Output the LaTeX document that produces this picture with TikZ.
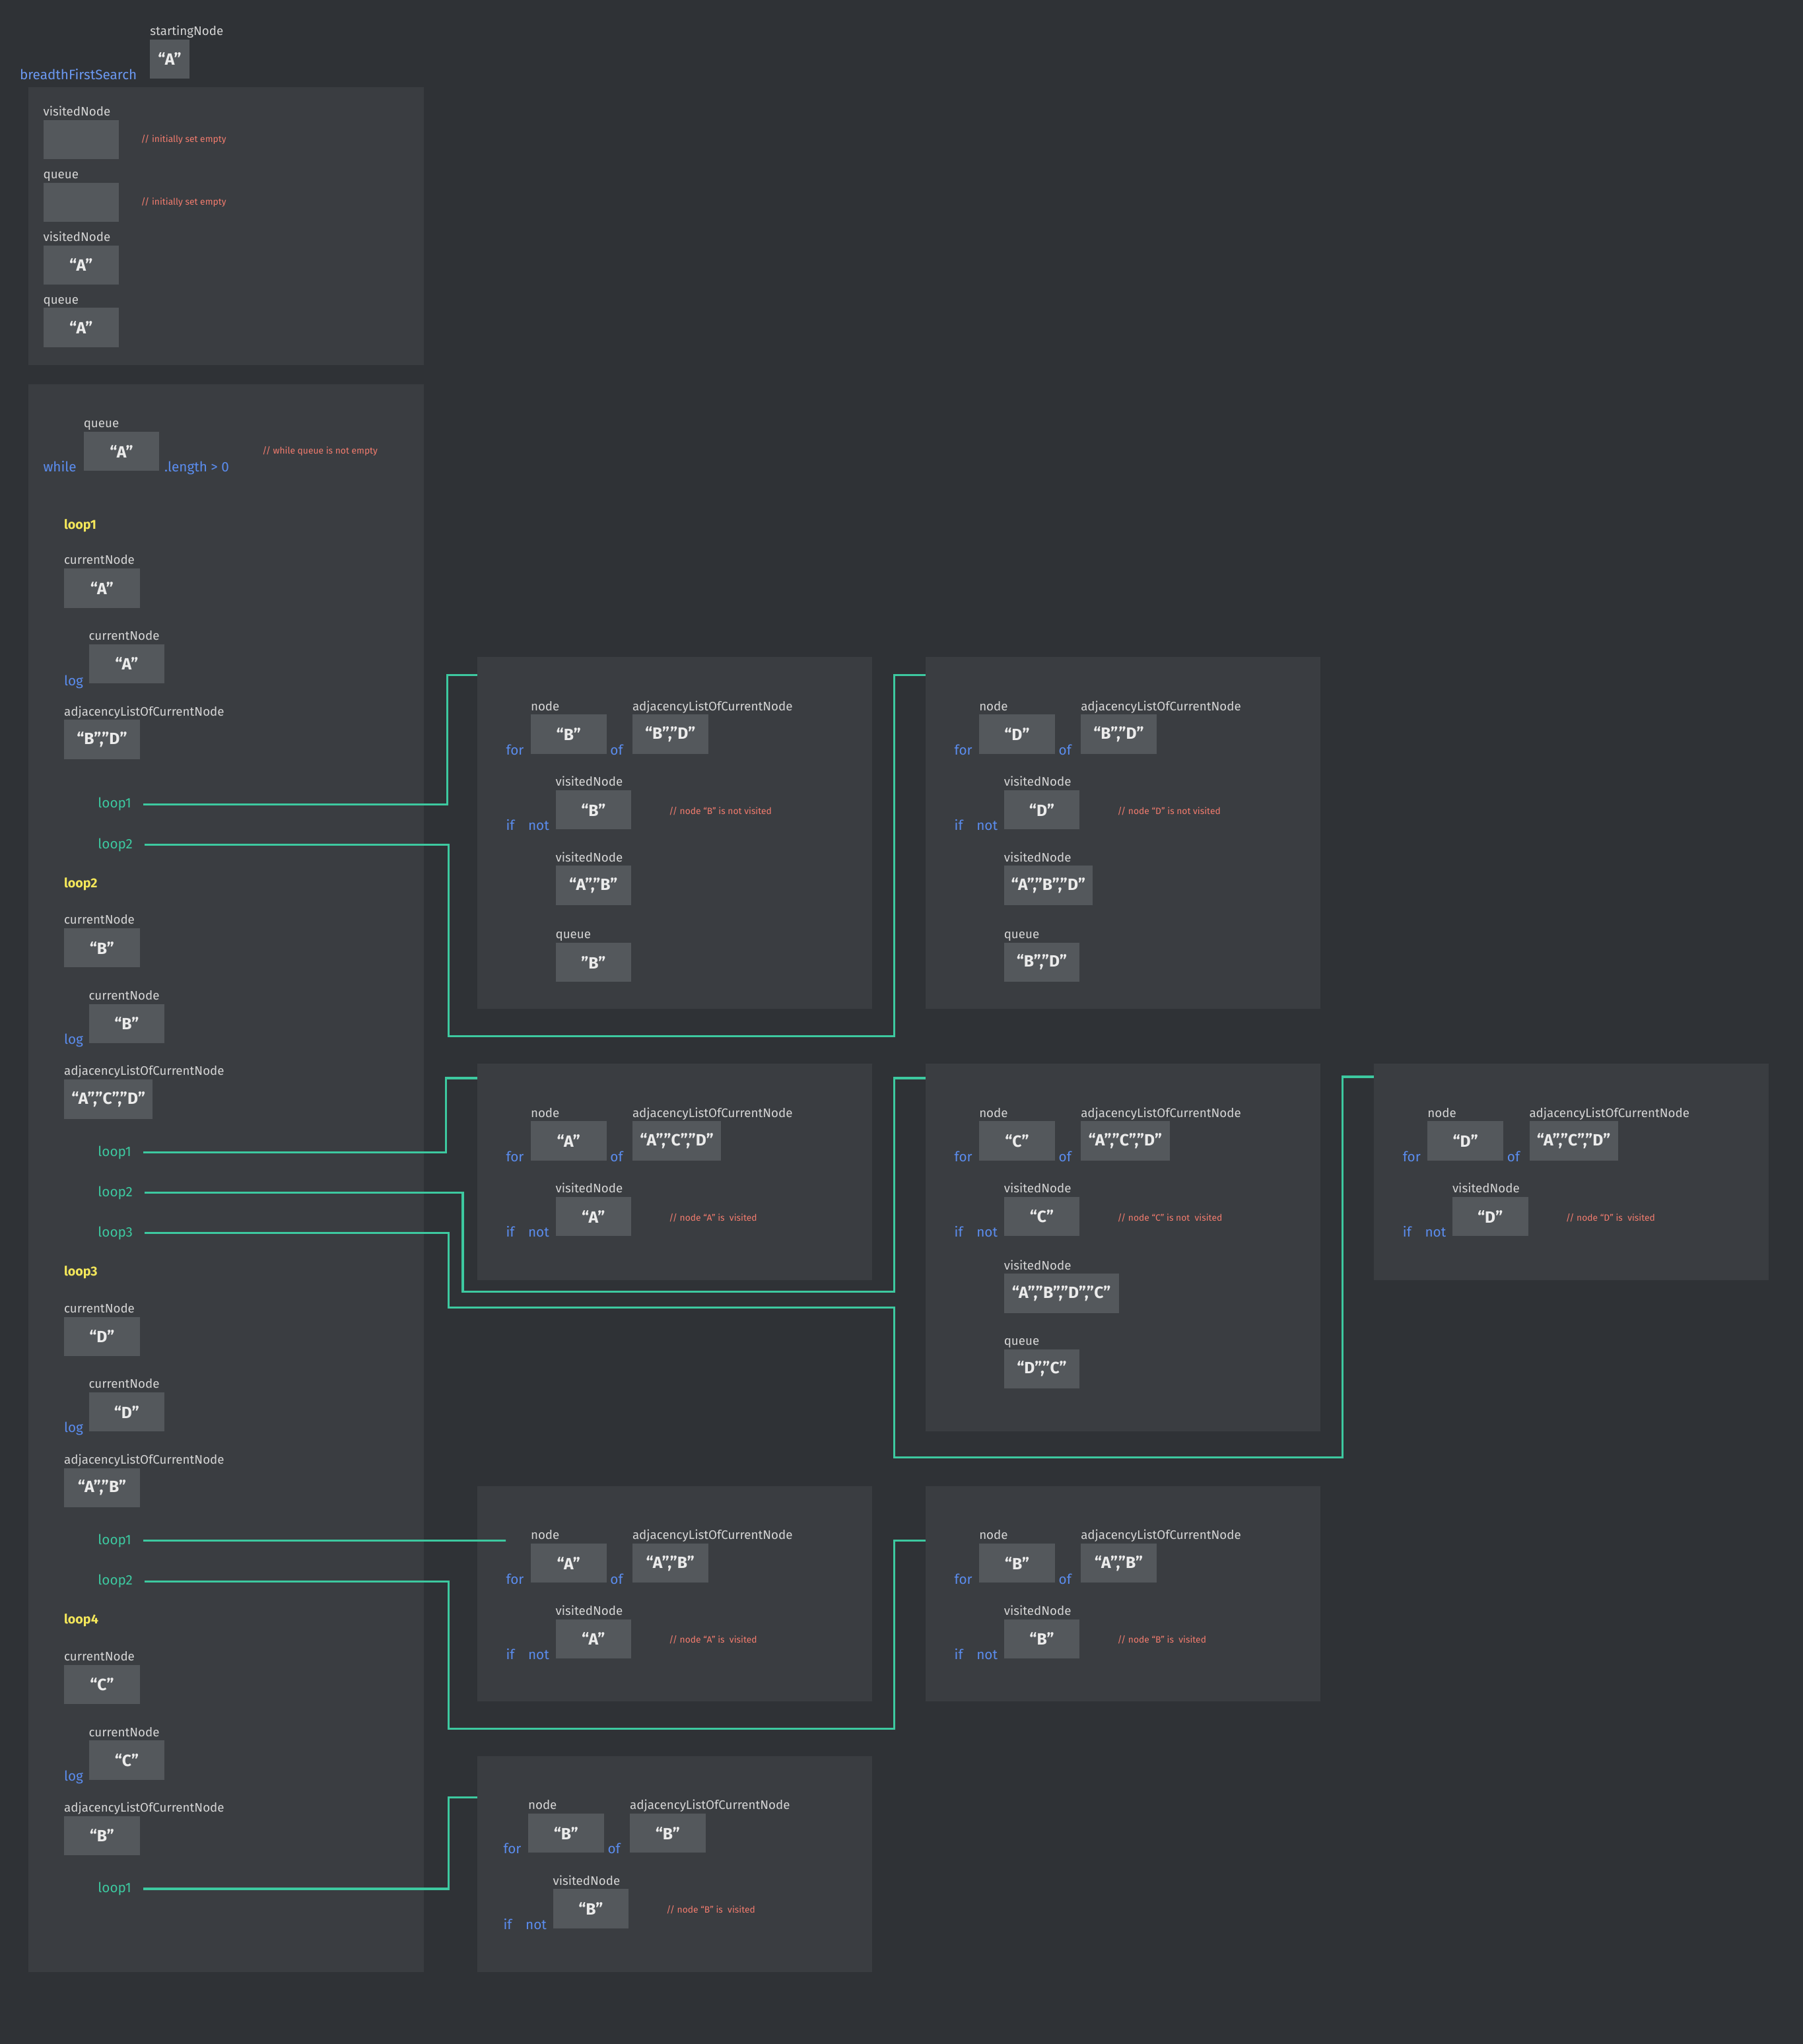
\documentclass[tikz,border=0pt]{standalone}
\usepackage{fontspec}
\setmainfont{Fira Sans}
\usetikzlibrary{positioning,calc}
\definecolor{bgc}{HTML}{2F3236}
\definecolor{panelc}{HTML}{3A3D41}
\definecolor{boxc}{HTML}{54585C}
\definecolor{kwc}{HTML}{5B8DEF}
\definecolor{loopc}{HTML}{F4E75A}
\definecolor{connc}{HTML}{3DC9A0}
\definecolor{cmtc}{HTML}{F27C6E}
\definecolor{lblc}{HTML}{D5D5D5}
\tikzset{
  % panel behind a block of code
  panel/.style={fill=panelc, draw=none},
  % label above a value box
  lbl/.style={anchor=base west, inner sep=0, text=lblc, font=\fontsize{9.5}{10}\selectfont},
  % value box
  val/.style={anchor=north west, fill=boxc, minimum height=30pt, minimum width=58pt,
    inner sep=0, text=white!92!black, font=\bfseries\fontsize{12.5}{13}\selectfont},
  % keywords
  kw/.style={anchor=base west, inner sep=0, text=kwc, font=\fontsize{10.5}{11}\selectfont},
  loopy/.style={anchor=west, inner sep=0, text=loopc, font=\bfseries\fontsize{10}{11}\selectfont},
  loopg/.style={anchor=west, inner sep=0, text=connc, font=\fontsize{10.5}{11}\selectfont},
  cmt/.style={anchor=west, inner sep=0, text=cmtc, font=\fontsize{7}{8}\selectfont},
  % connector
  conn/.style={draw=connc, line width=1.6pt},
}
% name, x, top, width, label, value
\newcommand\varbox[6]{%
  \node[lbl] (#1-l) at (#2,#3-3) {#5};
  \node[val, minimum width=#4] (#1) at (#2,#3) {#6};}
% name, panel x, panel y, node, adjacency list, list width
\newcommand\forrow[6]{%
  \varbox{#1-n}{#2+41}{#3+44}{58pt}{node}{#4}
  \varbox{#1-a}{#2+119}{#3+44}{#6}{adjacencyListOfCurrentNode}{#5}
  \node[kw] (#1-for) at (#2+22,#3+75) {for};
  \node[kw] (#1-of) at (#2+102,#3+75) {of};}
% name, panel x, panel y, node, comment
\newcommand\ifrow[5]{%
  \varbox{#1-v}{#2+60}{#3+102}{58pt}{visitedNode}{#4}
  \node[kw] (#1-if) at (#2+22,#3+133) {if};
  \node[kw] (#1-not) at (#2+39,#3+133) {not};
  \node[cmt] (#1-c) at (#2+147,#3+118) {#5};}
\begin{document}
\begin{tikzpicture}[x=1pt, y=-1pt]
  \fill[bgc] (0,0) rectangle (1383,1568);
  \useasboundingbox (0,0) rectangle (1383,1568);
  % header
  \node[kw, text=kwc!90!white] (bfs) at (15,61) {breadthFirstSearch};
  \varbox{start}{115}{30}{30pt}{startingNode}{“A”}
  % init panel
  \fill[panel] (22,67) rectangle (325,280);
  \varbox{vn0}{33}{92}{58pt}{visitedNode}{}
  \node[cmt] (c0) at (108,107) {// initially set empty};
  \varbox{q0}{33}{140}{58pt}{queue}{}
  \node[cmt] (c1) at (108,155) {// initially set empty};
  \varbox{vn1}{33}{188}{58pt}{visitedNode}{“A”}
  \varbox{q1}{33}{236}{58pt}{queue}{“A”}
  % while panel
  \fill[panel] (22,295) rectangle (325,1513);
  \varbox{wq}{64}{331}{58pt}{queue}{“A”}
  \node[kw] (while) at (33,362) {while};
  \node[kw] (len) at (126,362) {.length > 0};
  \node[cmt] (cw) at (201,346) {// while queue is not empty};
  % loop1
  \node[loopy] (ly1) at (49,403) {loop1};
  \varbox{cn1}{49}{436}{58pt}{currentNode}{“A”}
  \varbox{lg1}{68}{494}{58pt}{currentNode}{“A”}
  \node[kw] (log1) at (49,526) {log};
  \varbox{adj1}{49}{552}{58pt}{adjacencyListOfCurrentNode}{“B”,”D”}
  \node[loopg] (la1) at (75,617) {loop1};
  \node[loopg] (la2) at (75,648) {loop2};
  % loop2
  \node[loopy] (ly2) at (49,678) {loop2};
  \varbox{cn2}{49}{712}{58pt}{currentNode}{“B”}
  \varbox{lg2}{68}{770}{58pt}{currentNode}{“B”}
  \node[kw] (log2) at (49,801) {log};
  \varbox{adj2}{49}{828}{68pt}{adjacencyListOfCurrentNode}{“A”,”C”,”D”}
  \node[loopg] (lb1) at (75,884) {loop1};
  \node[loopg] (lb2) at (75,915) {loop2};
  \node[loopg] (lb3) at (75,946) {loop3};
  % loop3
  \node[loopy] (ly3) at (49,976) {loop3};
  \varbox{cn3}{49}{1010}{58pt}{currentNode}{“D”}
  \varbox{lg3}{68}{1068}{58pt}{currentNode}{“D”}
  \node[kw] (log3) at (49,1099) {log};
  \varbox{adj3}{49}{1126}{58pt}{adjacencyListOfCurrentNode}{“A”,”B”}
  \node[loopg] (lc1) at (75,1182) {loop1};
  \node[loopg] (lc2) at (75,1213) {loop2};
  % loop4
  \node[loopy] (ly4) at (49,1243) {loop4};
  \varbox{cn4}{49}{1277}{58pt}{currentNode}{“C”}
  \varbox{lg4}{68}{1335}{58pt}{currentNode}{“C”}
  \node[kw] (log4) at (49,1366) {log};
  \varbox{adj4}{49}{1393}{58pt}{adjacencyListOfCurrentNode}{“B”}
  \node[loopg] (ld1) at (75,1449) {loop1};
  % row 1 panels
  \fill[panel] (366,504) rectangle (669,774);
  \forrow{pa}{366}{504}{“B”}{“B”,”D”}{58pt}
  \ifrow{pa}{366}{504}{“B”}{// node “B” is not visited}
  \varbox{pa-v2}{426}{664}{58pt}{visitedNode}{“A”,”B”}
  \varbox{pa-q}{426}{723}{58pt}{queue}{”B”}
  \fill[panel] (710,504) rectangle (1013,774);
  \forrow{pb}{710}{504}{“D”}{“B”,”D”}{58pt}
  \ifrow{pb}{710}{504}{“D”}{// node “D” is not visited}
  \varbox{pb-v2}{770}{664}{68pt}{visitedNode}{“A”,”B”,”D”}
  \varbox{pb-q}{770}{723}{58pt}{queue}{“B”,”D”}
  % row 2 panels
  \fill[panel] (366,816) rectangle (669,982);
  \forrow{pc}{366}{816}{“A”}{“A”,”C”,”D”}{68pt}
  \ifrow{pc}{366}{816}{“A”}{// node “A” is\ \ visited}
  \fill[panel] (710,816) rectangle (1013,1098);
  \forrow{pd}{710}{816}{“C”}{“A”,”C”,”D”}{68pt}
  \ifrow{pd}{710}{816}{“C”}{// node “C” is not\ \ visited}
  \varbox{pd-v2}{770}{977}{88pt}{visitedNode}{“A”,”B”,”D”,”C”}
  \varbox{pd-q}{770}{1035}{58pt}{queue}{“D”,”C”}
  \fill[panel] (1054,816) rectangle (1357,982);
  \forrow{pe}{1054}{816}{“D”}{“A”,”C”,”D”}{68pt}
  \ifrow{pe}{1054}{816}{“D”}{// node “D” is\ \ visited}
  % row 3 panels
  \fill[panel] (366,1140) rectangle (669,1305);
  \forrow{pf}{366}{1140}{“A”}{“A”,”B”}{58pt}
  \ifrow{pf}{366}{1140}{“A”}{// node “A” is\ \ visited}
  \fill[panel] (710,1140) rectangle (1013,1305);
  \forrow{pg}{710}{1140}{“B”}{“A”,”B”}{58pt}
  \ifrow{pg}{710}{1140}{“B”}{// node “B” is\ \ visited}
  % row 4 panel
  \fill[panel] (366,1347) rectangle (669,1513);
  \forrow{ph}{364}{1347}{“B”}{“B”}{58pt}
  \ifrow{ph}{364}{1347}{“B”}{// node “B” is\ \ visited}
  % entry points of the panels
  \coordinate (inA) at (366,518);
  \coordinate (inB) at (710,518);
  \coordinate (inC) at (366,827);
  \coordinate (inD) at (710,827);
  \coordinate (inE) at (1054,826);
  \coordinate (inG) at (710,1182);
  \coordinate (inH) at (366,1379);
  % connectors
  \draw[conn] ([xshift=9pt]la1.east) -- (343,617) |- (inA);
  \draw[conn] ([xshift=9pt]la2.east) -- (344,648) -- (344,795) -- (686,795) |- (inB);
  \draw[conn] ([xshift=9pt]lb1.east) -- (342,884) |- (inC);
  \draw[conn] ([xshift=9pt]lb2.east) -- (355,915) -- (355,991) -- (686,991) |- (inD);
  \draw[conn] ([xshift=9pt]lb3.east) -- (344,946) -- (344,1003) -- (686,1003)
    -- (686,1118) -- (1030,1118) |- (inE);
  \draw[conn] ([xshift=9pt]lc1.east) -- (pf-for.west |- lc1.east) -- (366,1182);
  \draw[conn] ([xshift=9pt]lc2.east) -- (344,1213) -- (344,1326) -- (686,1326) |- (inG);
  \draw[conn] ([xshift=9pt]ld1.east) -- (344,1449) |- (inH);
\end{tikzpicture}
\end{document}
